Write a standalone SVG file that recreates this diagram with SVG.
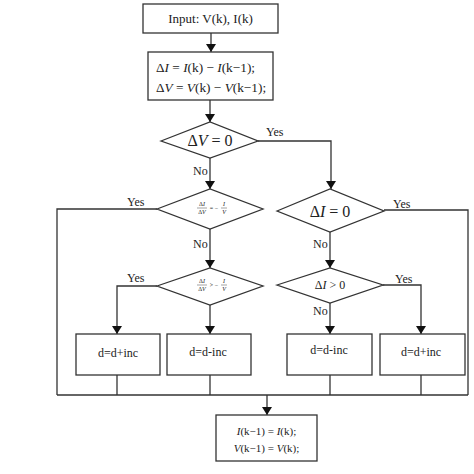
<svg xmlns="http://www.w3.org/2000/svg" width="474" height="474" viewBox="0 0 474 474">
<style>
.s{fill:#fff;stroke:#333;stroke-width:1.3}
.c{fill:none;stroke:#333;stroke-width:1.3}
text{font-family:"Liberation Serif","Times New Roman",serif;fill:#222}
.t{font-size:13px}
.t2{font-size:13.3px}
.m{font-size:16px}
.l{font-size:12px}
.b{font-size:12px}
.u{font-size:11px}
.f{font-size:6px}
.i{font-style:italic}
</style>
<defs>
<marker id="ah" viewBox="0 0 8 10" refX="8" refY="5" markerWidth="8" markerHeight="10" markerUnits="userSpaceOnUse" orient="auto">
<path d="M0,0 L8,5 L0,10 z" fill="#111"/>
</marker>
</defs>
<g id="connectors">
<line class="c" x1="211" y1="33" x2="211" y2="52" marker-end="url(#ah)"/>
<line class="c" x1="210" y1="100" x2="210" y2="122" marker-end="url(#ah)"/>
<line class="c" x1="210" y1="158" x2="210" y2="189" marker-end="url(#ah)"/>
<polyline class="c" points="258,141 331,141 331,189" marker-end="url(#ah)"/>
<line class="c" x1="210" y1="229" x2="210" y2="268" marker-end="url(#ah)"/>
<line class="c" x1="330" y1="232" x2="330" y2="268" marker-end="url(#ah)"/>
<polyline class="c" points="157,209 57,209 57,395"/>
<polyline class="c" points="384,210 468,210 468,395"/>
<polyline class="c" points="157,286 117,286 117,334" marker-end="url(#ah)"/>
<line class="c" x1="210" y1="305" x2="210" y2="334" marker-end="url(#ah)"/>
<line class="c" x1="330" y1="303" x2="330" y2="334" marker-end="url(#ah)"/>
<polyline class="c" points="383,285 421,285 421,334" marker-end="url(#ah)"/>
<line class="c" x1="117" y1="375" x2="117" y2="395"/>
<line class="c" x1="210" y1="375" x2="210" y2="395"/>
<line class="c" x1="330" y1="375" x2="330" y2="395"/>
<line class="c" x1="421" y1="375" x2="421" y2="395"/>
<line class="c" x1="57" y1="395" x2="468" y2="395"/>
<line class="c" x1="267" y1="395" x2="267" y2="415" marker-end="url(#ah)"/>
<text class="l" x="266" y="136">Yes</text>
<text class="l" x="193" y="175">No</text>
<text class="l" x="127" y="206">Yes</text>
<text class="l" x="393" y="208">Yes</text>
<text class="l" x="193" y="248">No</text>
<text class="l" x="313" y="248">No</text>
<text class="l" x="127" y="282">Yes</text>
<text class="l" x="395" y="283">Yes</text>
<text class="l" x="313" y="315">No</text>
</g>
<g id="input">
<rect class="s" x="143" y="4" width="135" height="29"/>
<text class="t" x="210.5" y="23" text-anchor="middle">Input: V(k), I(k)</text>
</g>
<g id="delta">
<rect class="s" x="148" y="52" width="125" height="48"/>
<text class="t2" x="156" y="72">Δ<tspan class="i">I</tspan> = <tspan class="i">I</tspan>(k) − <tspan class="i">I</tspan>(k−1);</text>
<text class="t2" x="156" y="92">Δ<tspan class="i">V</tspan> = <tspan class="i">V</tspan>(k) − <tspan class="i">V</tspan>(k−1);</text>
</g>
<g id="dv0">
<polygon class="s" points="161,141 210,122 258,141 210,158"/>
<text class="m" x="210" y="146" text-anchor="middle">Δ<tspan class="i">V</tspan> = 0</text>
</g>
<g id="eq">
<polygon class="s" points="157,209 210,189 263,209 210,229"/>
<text class="f" x="202" y="206" text-anchor="middle">Δ<tspan class="i">I</tspan></text>
<line x1="197" y1="208" x2="207" y2="208" stroke="#444" stroke-width="0.5"/>
<text class="f" x="202" y="214" text-anchor="middle">Δ<tspan class="i">V</tspan></text>
<text class="f" x="214" y="210" text-anchor="middle">= −</text>
<text class="f i" x="224" y="206" text-anchor="middle">I</text>
<line x1="221" y1="208" x2="227" y2="208" stroke="#444" stroke-width="0.5"/>
<text class="f i" x="224" y="214" text-anchor="middle">V</text>
</g>
<g id="di0">
<polygon class="s" points="277,211 330,189 384,211 330,232"/>
<text class="m" x="330" y="217" text-anchor="middle">Δ<tspan class="i">I</tspan> = 0</text>
</g>
<g id="gt">
<polygon class="s" points="157,286 210,268 263,286 210,305"/>
<text class="f" x="202" y="283" text-anchor="middle">Δ<tspan class="i">I</tspan></text>
<line x1="197" y1="285" x2="207" y2="285" stroke="#444" stroke-width="0.5"/>
<text class="f" x="202" y="291" text-anchor="middle">Δ<tspan class="i">V</tspan></text>
<text class="f" x="214" y="287" text-anchor="middle">&gt; −</text>
<text class="f i" x="224" y="283" text-anchor="middle">I</text>
<line x1="221" y1="285" x2="227" y2="285" stroke="#444" stroke-width="0.5"/>
<text class="f i" x="224" y="291" text-anchor="middle">V</text>
</g>
<g id="digt0">
<polygon class="s" points="277,285 330,268 383,285 330,303"/>
<text class="b" x="330" y="289" text-anchor="middle">Δ<tspan class="i">I</tspan> &gt; 0</text>
</g>
<g id="boxA">
<rect class="s" x="76" y="334" width="84" height="41"/>
<text class="b" x="118" y="357" text-anchor="middle">d=d+inc</text>
</g>
<g id="boxB">
<rect class="s" x="167" y="334" width="84" height="41"/>
<text class="b" x="208" y="356" text-anchor="middle">d=d-inc</text>
</g>
<g id="boxC">
<rect class="s" x="287" y="334" width="85" height="41"/>
<text class="b" x="329" y="354" text-anchor="middle">d=d-inc</text>
</g>
<g id="boxD">
<rect class="s" x="380" y="334" width="85" height="41"/>
<text class="b" x="421" y="356" text-anchor="middle">d=d+inc</text>
</g>
<g id="update">
<rect class="s" x="216" y="415" width="101" height="46"/>
<text class="u" x="266.5" y="435" text-anchor="middle"><tspan class="i">I</tspan>(k−1) = <tspan class="i">I</tspan>(k);</text>
<text class="u" x="266.5" y="452" text-anchor="middle"><tspan class="i">V</tspan>(k−1) = <tspan class="i">V</tspan>(k);</text>
</g>
</svg>
